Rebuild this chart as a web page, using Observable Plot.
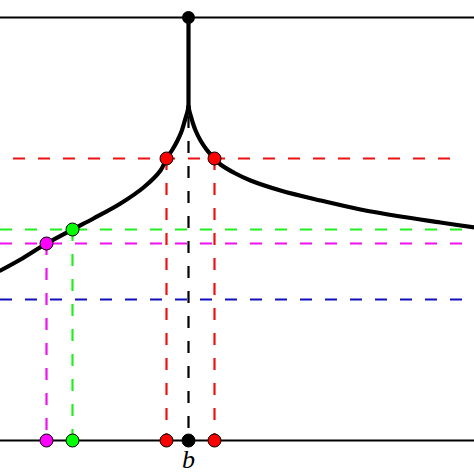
<!DOCTYPE html>
<html><head><meta charset="utf-8">
<script src="https://cdn.jsdelivr.net/npm/d3@7"></script>
<script src="https://cdn.jsdelivr.net/npm/@observablehq/plot@0.6"></script>
<style>body{margin:0;background:#fff}</style>
</head><body><div id="chart"></div>
<script>
// positions in chart units (x rightward, y downward)
const leftBranch = [[0,270],[20,259],[46,243],[72,229],[93,218],[120,203],[143,187],[160,170],[166,158],[172,149],[177,140],[181,131],[183.5,123],[185.5,116],[187,111],[188,106]];
const stem = [[188,108],[188,17]];
const rightBranch = [[188,106],[189,111],[190.5,116],[192.5,123],[195.5,131],[200,140],[206,149],[214,158],[220,164],[235,173],[250,180],[280,190],[320,200],[360,209],[400,216],[440,222],[474,227]];
const levelNames = ["red","green","magenta","blue"];
const levelY = [158,229,243,299];
const levelColors = ["#ee1111","#22ee22","#ee11ee","#1111bb"];
const dropX = [166,214,72,46,188];
const dropTop = [158,158,229,243,116];
const dropColors = ["#ee1111","#ee1111","#22ee22","#ee11ee","#000000"];
const dotX = [166,214,72,46];
const dotY = [158,158,229,243];
const dotFill = ["#ff0000","#ff0000","#00ff00","#ff00ff"];
const baseX = [46,72,166,188,214];
const baseFill = ["#ff00ff","#00ff00","#ff0000","#000000","#ff0000"];
const topLine = 17, baseLine = 440;
const bLabel = "b";

const pts = a => a.map(([x,y]) => ({x,y}));
const levels = levelY.map((y,i)=>({y, c: levelColors[i], n: levelNames[i]}));
const drops = dropX.map((x,i)=>({x, y1: dropTop[i], y2: baseLine, c: dropColors[i]}));
const dots = dotX.map((x,i)=>({x, y: dotY[i], c: dotFill[i]}));
const base = baseX.map((x,i)=>({x, y: baseLine, c: baseFill[i]}));

const chart = Plot.plot({
  width: 474, height: 474,
  marginTop: 0, marginBottom: 0, marginLeft: 0, marginRight: 0,
  x: {domain: [0,474], axis: null},
  y: {domain: [0,474], reverse: true, axis: null},
  marks: [
    Plot.ruleY([topLine, baseLine], {x1: 0, x2: 474, stroke: "#000", strokeWidth: 2}),
    Plot.ruleY(levels.filter(d => d.n === "red"), {y: "y", x1: 0, x2: 462, stroke: "c", strokeWidth: 2.2, strokeDasharray: "12,13", strokeDashoffset: 12}),
    Plot.ruleY(levels.filter(d => d.n !== "red"), {y: "y", x1: 0, x2: 462, stroke: "c", strokeWidth: 2.2, strokeDasharray: "12,13"}),
    Plot.ruleX(drops, {x: "x", y1: "y1", y2: "y2", stroke: "c", strokeWidth: 2.2, strokeDasharray: "12,13"}),
    Plot.line(pts(leftBranch), {x: "x", y: "y", stroke: "#000", strokeWidth: 4.2, curve: "catmull-rom"}),
    Plot.line(pts(rightBranch), {x: "x", y: "y", stroke: "#000", strokeWidth: 4.2, curve: "catmull-rom"}),
    Plot.line(pts(stem), {x: "x", y: "y", stroke: "#000", strokeWidth: 4.2}),
    Plot.dot(dots, {x: "x", y: "y", r: 6.5, fill: "c", stroke: "#000", strokeWidth: 1}),
    Plot.dot(base, {x: "x", y: "y", r: 6.5, fill: "c", stroke: "#000", strokeWidth: 1}),
    Plot.dot([{x:188,y:topLine}], {x: "x", y: "y", r: 6.5, fill: "#000"}),
    Plot.text([{x:188,y:baseLine}], {x: "x", y: "y", dy: 19, text: () => bLabel, fontSize: 26, fontStyle: "italic", fontFamily: "Liberation Serif, serif", fill: "#000"})
  ]
});
document.getElementById("chart").append(chart);
</script>
</body></html>
